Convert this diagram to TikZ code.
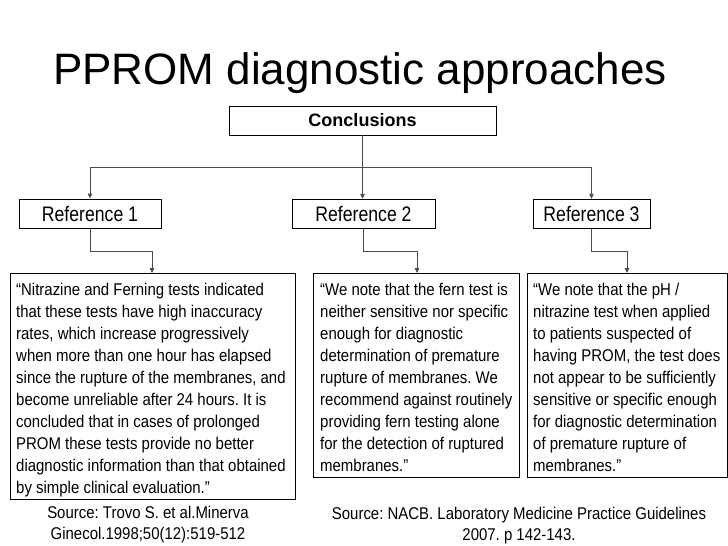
\documentclass[tikz,border=0pt]{standalone}
\usepackage{fontspec}
\setmainfont{Liberation Sans}
\newfontfamily\reffont{Liberation Sans}[FakeStretch=0.84]
\newfontfamily\qfont{Liberation Sans}[FakeStretch=0.88]
\usetikzlibrary{arrows.meta}
\frenchspacing
\begin{document}
\frenchspacing
\begin{tikzpicture}[x=1pt,y=-1pt,
  box/.style={draw=black, line width=0.9pt, inner sep=0pt},
  conn/.style={draw=black!70, line width=0.9pt},
  arr/.style={conn, -{Triangle[length=5pt,width=4.5pt]}},
  reftext/.style={font=\reffont\fontsize{21}{24}\selectfont},
  qtext/.style={inner sep=0pt, align=left, anchor=north west, font=\qfont\fontsize{17}{22}\selectfont},
  srctext/.style={inner sep=0pt, align=center, anchor=north, font=\qfont\fontsize{17}{21}\selectfont}]
\fill[white] (0,0) rectangle (728,546);
\useasboundingbox (0,0) rectangle (728,546);

\node[inner sep=0pt, anchor=base, font=\fontsize{44}{50}\selectfont] (title) at (360,84) {PPROM diagnostic approaches};

\node[box, minimum width=267, minimum height=29, font=\bfseries\fontsize{18}{20}\selectfont] (concl) at (362.5,120.5) {Conclusions};

\node[box, minimum width=142, minimum height=29.5, reftext] (r1) at (90,213.7) {Reference 1};
\node[box, minimum width=143, minimum height=29.5, reftext] (r2) at (363.5,214) {Reference 2};
\node[box, minimum width=117, minimum height=29.5, reftext] (r3) at (591.5,214) {Reference 3};

\node[box, anchor=north west, minimum width=285, minimum height=226] (q1) at (10,273) {};
\node[box, anchor=north west, minimum width=206, minimum height=204] (q2) at (313,273) {};
\node[box, anchor=north west, minimum width=200, minimum height=204] (q3) at (527,273) {};

\node[qtext] (t1) at (16,283) {“Nitrazine and Ferning tests indicated\\
that these tests have high inaccuracy\\
rates, which increase progressively\\
when more than one hour has elapsed\\
since the rupture of the membranes, and\\
become unreliable after 24 hours. It is\\
concluded that in cases of prolonged\\
PROM these tests provide no better\\
diagnostic information than that obtained\\
by simple clinical evaluation.”};

\node[qtext] (t2) at (320,283) {“We note that the fern test is\\
neither sensitive nor specific\\
enough for diagnostic\\
determination of premature\\
rupture of membranes. We\\
recommend against routinely\\
providing fern testing alone\\
for the detection of ruptured\\
membranes.”};

\node[qtext] (t3) at (533,283) {“We note that the pH /\\
nitrazine test when applied\\
to patients suspected of\\
having PROM, the test does\\
not appear to be sufficiently\\
sensitive or specific enough\\
for diagnostic determination\\
of premature rupture of\\
membranes.”};

\node[srctext] (s1) at (148,505.5) {Source: Trovo S. et al.Minerva\\Ginecol.1998;50(12):519-512};
\node[srctext] (s2) at (519,506.5) {Source: NACB. Laboratory Medicine Practice Guidelines\\2007. p 142-143.};

\coordinate (j) at (363,167);
\draw[conn] (concl.south) -- (concl.south |- j);
\draw[arr] (concl.south |- j) -| (r1.north);
\draw[arr] (concl.south |- j) -- (concl.south |- r2.north);
\draw[arr] (concl.south |- j) -| (r3.north);

\coordinate (k1) at (152,251);
\coordinate (k2) at (417,251);
\coordinate (k3) at (627,251);
\draw[arr] (r1.south) |- (k1) -- (k1 |- q1.north);
\draw[arr] (r2.south) |- (k2) -- (k2 |- q2.north);
\draw[arr] (r3.south) |- (k3) -- (k3 |- q3.north);
\end{tikzpicture}
\end{document}
